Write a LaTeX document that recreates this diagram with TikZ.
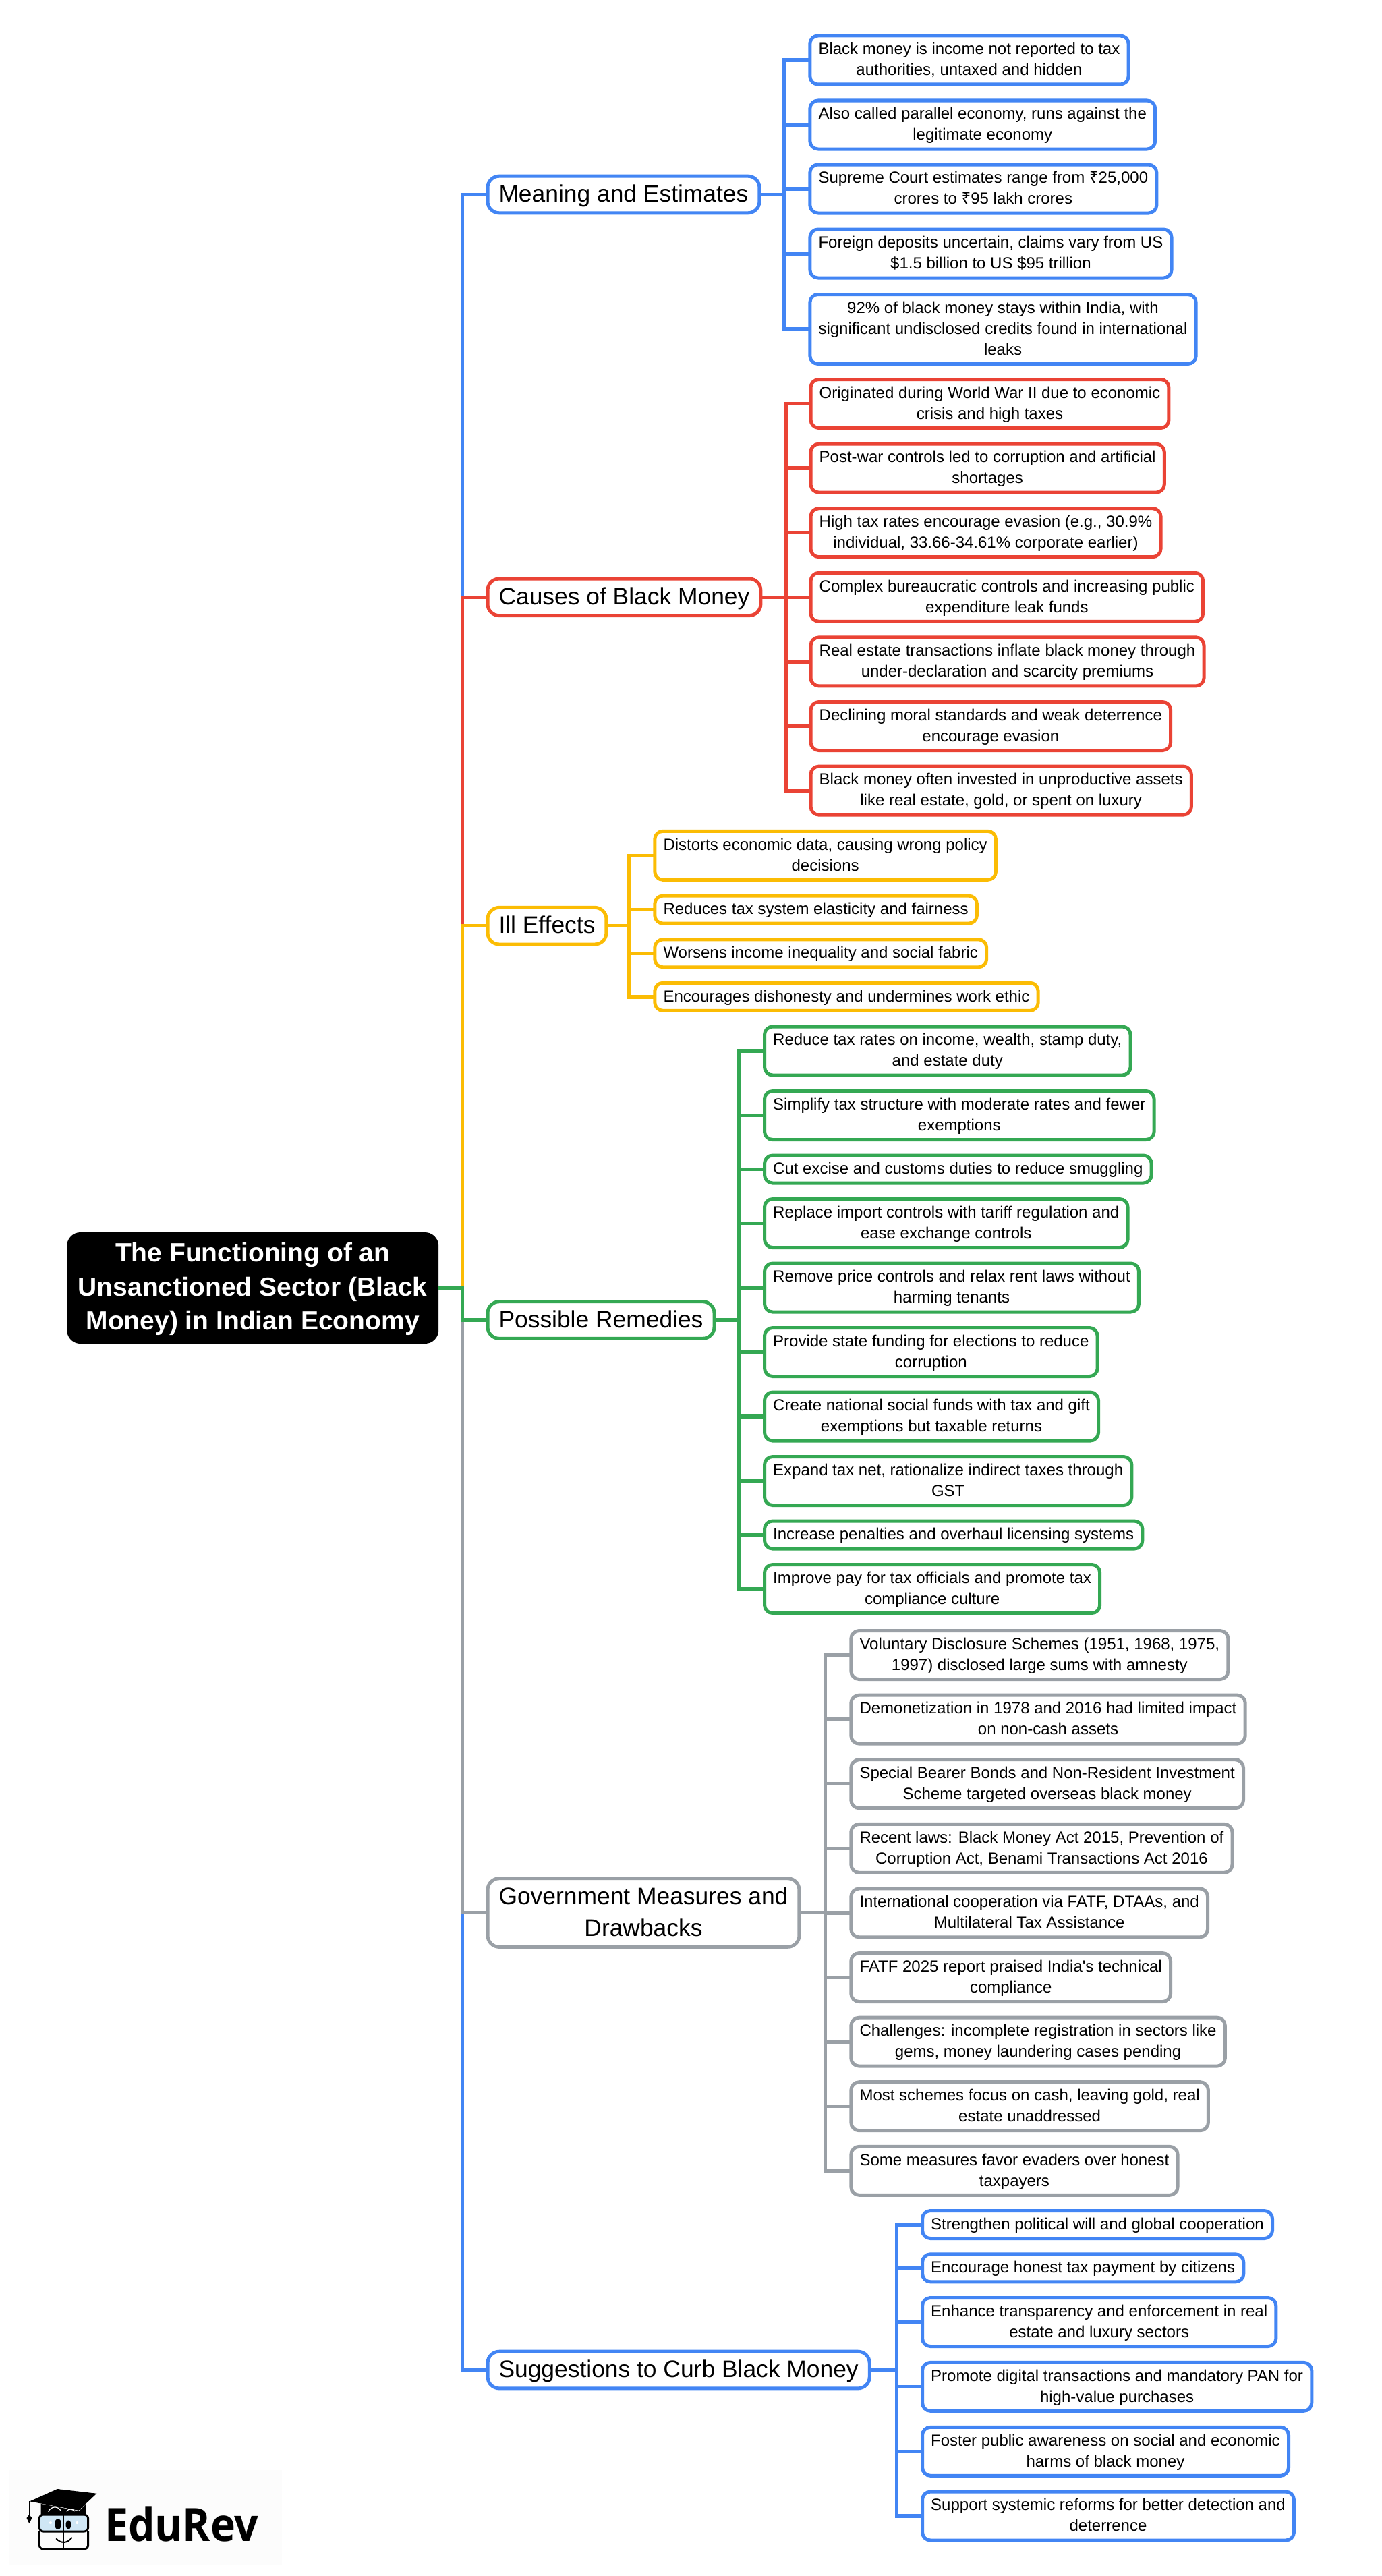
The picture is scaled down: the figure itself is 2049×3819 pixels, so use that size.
\documentclass[tikz,border=0pt]{standalone}
\usepackage{fontspec}
\setmainfont{Liberation Sans}
\newfontfamily\logofont[FakeStretch=0.92]{Open Sans}
\newfontfamily\rupeefont{Noto Sans}
\newcommand{\rupee}{{\rupeefont ₹}}
\newcommand{\rootst}{\rule[-13.5pt]{0pt}{50.5pt}}
\newcommand{\topicst}{\rule[-12.5pt]{0pt}{47pt}}
\newcommand{\leafst}{\rule[-8.2pt]{0pt}{31pt}}
\definecolor{cblue}{HTML}{4285F4}
\definecolor{cred}{HTML}{EA4335}
\definecolor{cyellow}{HTML}{FBBC04}
\definecolor{cgreen}{HTML}{34A853}
\definecolor{cgray}{HTML}{9AA0A6}
\definecolor{clens}{HTML}{CFE7F5}
\tikzset{
    rootbox/.style={fill=black, text=white, rounded corners=20pt, align=center, anchor=west,
        font=\fontsize{39}{50.5}\selectfont\bfseries, inner xsep=16.5pt, inner ysep=6.75pt},
    topic/.style={draw=#1, fill=white, line width=5pt, rounded corners=17pt, align=center, anchor=west,
        font=\fontsize{35.4}{47}\selectfont, inner xsep=16.5pt, inner ysep=3.8pt},
    leaf/.style={draw=#1, fill=white, line width=5pt, rounded corners=12pt, align=center, anchor=west,
        font=\fontsize{24}{31}\selectfont, inner xsep=12.7pt, inner ysep=5pt},
    link/.style={draw=#1, line width=5.5pt, shorten >=-2.5pt}
}
\begin{document}
\begin{tikzpicture}[x=1pt, y=-1pt]
    \useasboundingbox (0,0) rectangle (2049,3819);
    % buses
    \coordinate (rb) at (685.3,0);
    \coordinate (mb) at (1163,0);
    \coordinate (cb) at (1165,0);
    \coordinate (ib) at (932,0);
    \coordinate (pb) at (1095,0);
    \coordinate (gb) at (1223.4,0);
    \coordinate (sb) at (1329.5,0);
    % centre and topics
    \node[rootbox] (root) at (99,1909.5) {\rootst The Functioning of an\\Unsanctioned Sector (Black\\Money) in Indian Economy\rootst};
    \node[topic=cblue] (m) at (720.5,288.5) {\topicst Meaning and Estimates\topicst};
    \node[topic=cred] (c) at (720.5,885.3) {\topicst Causes of Black Money\topicst};
    \node[topic=cyellow] (i) at (720.5,1372.7) {\topicst Ill Effects\topicst};
    \node[topic=cgreen] (p) at (720.5,1957) {\topicst Possible Remedies\topicst};
    \node[topic=cgray] (g) at (720.5,2835.5) {\topicst Government Measures and\\Drawbacks\topicst};
    \node[topic=cblue] (s) at (720.5,3513.5) {\topicst Suggestions to Curb Black Money\topicst};
    % meaning
    \node[leaf=cblue] (m1) at (1198.3,89) {\leafst Black money is income not reported to tax\\authorities, untaxed and hidden\leafst};
    \node[leaf=cblue] (m2) at (1198.3,185) {\leafst Also called parallel economy, runs against the\\legitimate economy\leafst};
    \node[leaf=cblue] (m3) at (1198.3,280) {\leafst Supreme Court estimates range from \rupee25,000\\crores to \rupee95 lakh crores\leafst};
    \node[leaf=cblue] (m4) at (1198.3,376) {\leafst Foreign deposits uncertain, claims vary from US\\\$1.5 billion to US \$95 trillion\leafst};
    \node[leaf=cblue] (m5) at (1198.3,488) {\leafst 92\% of black money stays within India, with\\significant undisclosed credits found in international\\leaks\leafst};
    % causes
    \node[leaf=cred] (c1) at (1199.5,598.5) {\leafst Originated during World War II due to economic\\crisis and high taxes\leafst};
    \node[leaf=cred] (c2) at (1199.5,694.1) {\leafst Post-war controls led to corruption and artificial\\shortages\leafst};
    \node[leaf=cred] (c3) at (1199.5,789.7) {\leafst High tax rates encourage evasion (e.g., 30.9\%\\individual, 33.66-34.61\% corporate earlier)\leafst};
    \node[leaf=cred] (c4) at (1199.5,885.3) {\leafst Complex bureaucratic controls and increasing public\\expenditure leak funds\leafst};
    \node[leaf=cred] (c5) at (1199.5,980.9) {\leafst Real estate transactions inflate black money through\\under-declaration and scarcity premiums\leafst};
    \node[leaf=cred] (c6) at (1199.5,1076.5) {\leafst Declining moral standards and weak deterrence\\encourage evasion\leafst};
    \node[leaf=cred] (c7) at (1199.5,1172.1) {\leafst Black money often invested in unproductive assets\\like real estate, gold, or spent on luxury\leafst};
    % ill effects
    \node[leaf=cyellow] (i1) at (968.3,1268.3) {\leafst Distorts economic data, causing wrong policy\\decisions\leafst};
    \node[leaf=cyellow] (i2) at (968.3,1348.6) {\leafst Reduces tax system elasticity and fairness\leafst};
    \node[leaf=cyellow] (i3) at (968.3,1413.3) {\leafst Worsens income inequality and social fabric\leafst};
    \node[leaf=cyellow] (i4) at (968.3,1477.8) {\leafst Encourages dishonesty and undermines work ethic\leafst};
    % remedies
    \node[leaf=cgreen] (p1) at (1131,1558) {\leafst Reduce tax rates on income, wealth, stamp duty,\\and estate duty\leafst};
    \node[leaf=cgreen] (p2) at (1131,1653.5) {\leafst Simplify tax structure with moderate rates and fewer\\exemptions\leafst};
    \node[leaf=cgreen] (p3) at (1131,1733.5) {\leafst Cut excise and customs duties to reduce smuggling\leafst};
    \node[leaf=cgreen] (p4) at (1131,1813.5) {\leafst Replace import controls with tariff regulation and\\ease exchange controls\leafst};
    \node[leaf=cgreen] (p5) at (1131,1909) {\leafst Remove price controls and relax rent laws without\\harming tenants\leafst};
    \node[leaf=cgreen] (p6) at (1131,2004.5) {\leafst Provide state funding for elections to reduce\\corruption\leafst};
    \node[leaf=cgreen] (p7) at (1131,2100) {\leafst Create national social funds with tax and gift\\exemptions but taxable returns\leafst};
    \node[leaf=cgreen] (p8) at (1131,2195.5) {\leafst Expand tax net, rationalize indirect taxes through\\GST\leafst};
    \node[leaf=cgreen] (p9) at (1131,2275.5) {\leafst Increase penalties and overhaul licensing systems\leafst};
    \node[leaf=cgreen] (p10) at (1131,2355.5) {\leafst Improve pay for tax officials and promote tax\\compliance culture\leafst};
    % government
    \node[leaf=cgray] (g1) at (1259.3,2453.5) {\leafst Voluntary Disclosure Schemes (1951, 1968, 1975,\\1997) disclosed large sums with amnesty\leafst};
    \node[leaf=cgray] (g2) at (1259.3,2549.1) {\leafst Demonetization in 1978 and 2016 had limited impact\\on non-cash assets\leafst};
    \node[leaf=cgray] (g3) at (1259.3,2644.7) {\leafst Special Bearer Bonds and Non-Resident Investment\\Scheme targeted overseas black money\leafst};
    \node[leaf=cgray] (g4) at (1259.3,2740.3) {\leafst Recent laws: Black Money Act 2015, Prevention of\\Corruption Act, Benami Transactions Act 2016\leafst};
    \node[leaf=cgray] (g5) at (1259.3,2835.9) {\leafst International cooperation via FATF, DTAAs, and\\Multilateral Tax Assistance\leafst};
    \node[leaf=cgray] (g6) at (1259.3,2931.5) {\leafst FATF 2025 report praised India\textquotesingle s technical\\compliance\leafst};
    \node[leaf=cgray] (g7) at (1259.3,3027.1) {\leafst Challenges: incomplete registration in sectors like\\gems, money laundering cases pending\leafst};
    \node[leaf=cgray] (g8) at (1259.3,3122.7) {\leafst Most schemes focus on cash, leaving gold, real\\estate unaddressed\leafst};
    \node[leaf=cgray] (g9) at (1259.3,3218.3) {\leafst Some measures favor evaders over honest\\taxpayers\leafst};
    % suggestions
    \node[leaf=cblue] (s1) at (1365,3298) {\leafst Strengthen political will and global cooperation\leafst};
    \node[leaf=cblue] (s2) at (1365,3362.3) {\leafst Encourage honest tax payment by citizens\leafst};
    \node[leaf=cblue] (s3) at (1365,3442.5) {\leafst Enhance transparency and enforcement in real\\estate and luxury sectors\leafst};
    \node[leaf=cblue] (s4) at (1365,3538.3) {\leafst Promote digital transactions and mandatory PAN for\\high-value purchases\leafst};
    \node[leaf=cblue] (s5) at (1365,3634.3) {\leafst Foster public awareness on social and economic\\harms of black money\leafst};
    \node[leaf=cblue] (s6) at (1365,3730) {\leafst Support systemic reforms for better detection and\\deterrence\leafst};
    % links, far ones first
    \draw[link=cblue] (root.east) -- (rb |- root.east) |- (m.west);
    \draw[link=cblue] (root.east) -- (rb |- root.east) |- (s.west);
    \draw[link=cred] (root.east) -- (rb |- root.east) |- (c.west);
    \draw[link=cgray] (root.east) -- (rb |- root.east) |- (g.west);
    \draw[link=cyellow] (root.east) -- (rb |- root.east) |- (i.west);
    \draw[link=cgreen] (root.east) -- (rb |- root.east) |- (p.west);
    \foreach \n in {m1,m2,m3,m4,m5} \draw[link=cblue] (m.east) -- (mb |- m.east) |- (\n.west);
    \foreach \n in {c1,c2,c3,c4,c5,c6,c7} \draw[link=cred] (c.east) -- (cb |- c.east) |- (\n.west);
    \foreach \n in {i1,i2,i3,i4} \draw[link=cyellow] (i.east) -- (ib |- i.east) |- (\n.west);
    \foreach \n in {p1,p2,p3,p4,p5,p6,p7,p8,p9,p10} \draw[link=cgreen] (p.east) -- (pb |- p.east) |- (\n.west);
    \foreach \n in {g1,g2,g3,g4,g5,g6,g7,g8,g9} \draw[link=cgray] (g.east) -- (gb |- g.east) |- (\n.west);
    \foreach \n in {s1,s2,s3,s4,s5,s6} \draw[link=cblue] (s.east) -- (sb |- s.east) |- (\n.west);
    % logo
    \fill[black!1] (13,3662) rectangle (418,3802);
    \fill (60.7,3711) -- (127,3713) -- (127,3728) -- (60.7,3728) -- cycle;
    \draw[white, line width=1pt] (44,3708) -- (116.7,3722) -- (127,3712);
    \fill (44,3708.3) -- (85,3690) -- (143.3,3696.7) -- (116.7,3721.7) -- cycle;
    \draw[white, line width=1.2pt] (71.5,3723.5) .. controls (76,3715) and (86,3715) .. (90,3722);
    \draw[white, line width=1.2pt] (98.5,3723) .. controls (102,3719) and (107,3719) .. (110.5,3723);
    \draw[line width=1.5pt] (43.3,3708) -- (43.3,3728);
    \fill (43.3,3728) -- (47.5,3733) -- (43.3,3741) -- (39.5,3733) -- cycle;
    \draw[line width=3pt, fill=clens, rounded corners=6pt] (58.3,3728) rectangle (130.7,3753);
    \draw[line width=3pt, rounded corners=6pt] (94,3779) -- (58.3,3779) -- (58.3,3753);
    \draw[line width=3pt, rounded corners=6pt] (94,3779) -- (130.7,3779) -- (130.7,3753);
    \draw[line width=2.5pt] (94,3727) -- (94,3780);
    \fill (86,3742) ellipse (5pt and 8pt);
    \fill (101.5,3743) ellipse (4pt and 6.5pt);
    \fill[white] (75,3740) circle (2pt);
    \fill[white] (114.3,3740) circle (2pt);
    \draw[line width=2pt] (83.3,3763.3) .. controls (90,3771) and (100,3771) .. (106.7,3761.7);
    \node[inner sep=0pt, anchor=base west, font=\logofont\bfseries\fontsize{68}{68}\selectfont] (logo) at (155,3767) {EduRev};
\end{tikzpicture}
\end{document}
